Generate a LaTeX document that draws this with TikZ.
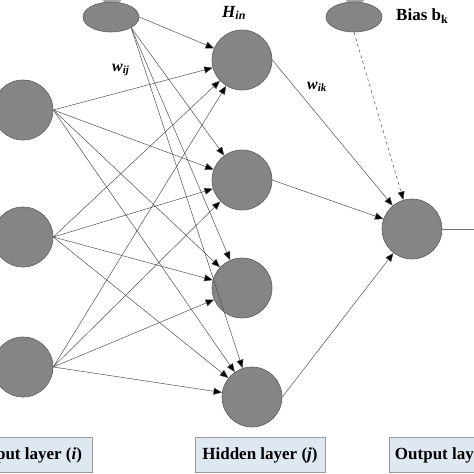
\documentclass[tikz,border=0pt]{standalone}
\usepackage{fontspec}
\setmainfont{Liberation Serif}
\usetikzlibrary{arrows.meta,shapes.geometric}
\definecolor{nodegray}{HTML}{858585}
\definecolor{nodeedge}{HTML}{5E5E5E}
\definecolor{stubgray}{HTML}{A6A6A6}
\definecolor{boxfill}{HTML}{DFE7F1}
\definecolor{boxedge}{HTML}{9A9A9A}
\definecolor{linegray}{HTML}{505050}
\begin{document}
\begin{tikzpicture}[x=1pt,y=-1pt,
  neuron/.style={circle,fill=nodegray,draw=nodeedge,line width=0.6pt,minimum size=60pt,inner sep=0pt},
  biasnode/.style={ellipse,fill=nodegray,draw=nodeedge,line width=0.6pt,minimum width=56pt,minimum height=30pt,inner sep=0pt},
  conn/.style={draw=linegray,line width=0.5pt,-{Triangle[length=8.5pt,width=7pt,fill=black]}},
  layerbox/.style={rectangle,fill=boxfill,draw=boxedge,line width=0.8pt,minimum height=35pt,inner sep=0pt,font=\fontsize{17}{20}\selectfont\bfseries},
  lbl/.style={inner sep=0pt,font=\fontsize{17}{20}\selectfont\bfseries}
]
\useasboundingbox (0,0) rectangle (474,474);
\clip (0,0) rectangle (474,474);
\fill[stubgray,rounded corners=2pt] (103,-4) rectangle (121,2);
\fill[stubgray,rounded corners=2pt] (346,-4) rectangle (364,2);
\node[biasnode] (b1) at (111,17) {};
\node[biasnode] (b2) at (354,17) {};
\node[neuron] (i1) at (23,110) {};
\node[neuron] (i2) at (23,237) {};
\node[neuron] (i3) at (23,367) {};
\node[neuron] (h1) at (242,60) {};
\node[neuron] (h2) at (242,180) {};
\node[neuron] (h3) at (242,288) {};
\node[neuron] (h4) at (252,397) {};
\node[neuron] (o) at (412,229) {};
\coordinate (oend) at (480,229);
\draw[conn] (b1.east) -- (h1);
\foreach \h in {h2,h3,h4}{
  \draw[conn] (b1.-28) -- (\h);
}
\foreach \h in {h1,h2,h3,h4}{
  \foreach \i in {i1,i2,i3}{
    \draw[conn] (\i.east) -- (\h);
  }
}
\draw[conn] (h1.east) -- (o);
\draw[conn] (h2.east) -- (o);
\draw[conn] (h4.east) -- (o);
\draw[conn,dashed] (b2.south) -- (o);
\draw[draw=black!55,line width=0.6pt] (o.east) -- (oend);
\node[lbl,anchor=west] (bk) at (396,16) {Bias b\textsubscript{\fontsize{12}{14}\selectfont k}};
\node[lbl,anchor=west] (hin) at (222,13) {\itshape H\textsubscript{\fontsize{12}{14}\selectfont in}};
\node[lbl,anchor=west,font=\fontsize{16}{18}\selectfont\bfseries\itshape] (wij) at (112,70) {w\textsubscript{\fontsize{11}{13}\selectfont ij}};
\node[lbl,anchor=west,font=\fontsize{16}{18}\selectfont\bfseries\itshape] (wik) at (307,87) {w\textsubscript{\fontsize{11}{13}\selectfont ik}};
\node[layerbox,minimum width=122pt] (inbox) at (31,455) {Input layer (\textit{i})};
\node[layerbox,minimum width=130pt] (hidbox) at (260,455) {Hidden layer (\textit{j})};
\node[layerbox,minimum width=130pt] (outbox) at (454,455) {Output layer (\textit{k})};
\end{tikzpicture}
\end{document}
